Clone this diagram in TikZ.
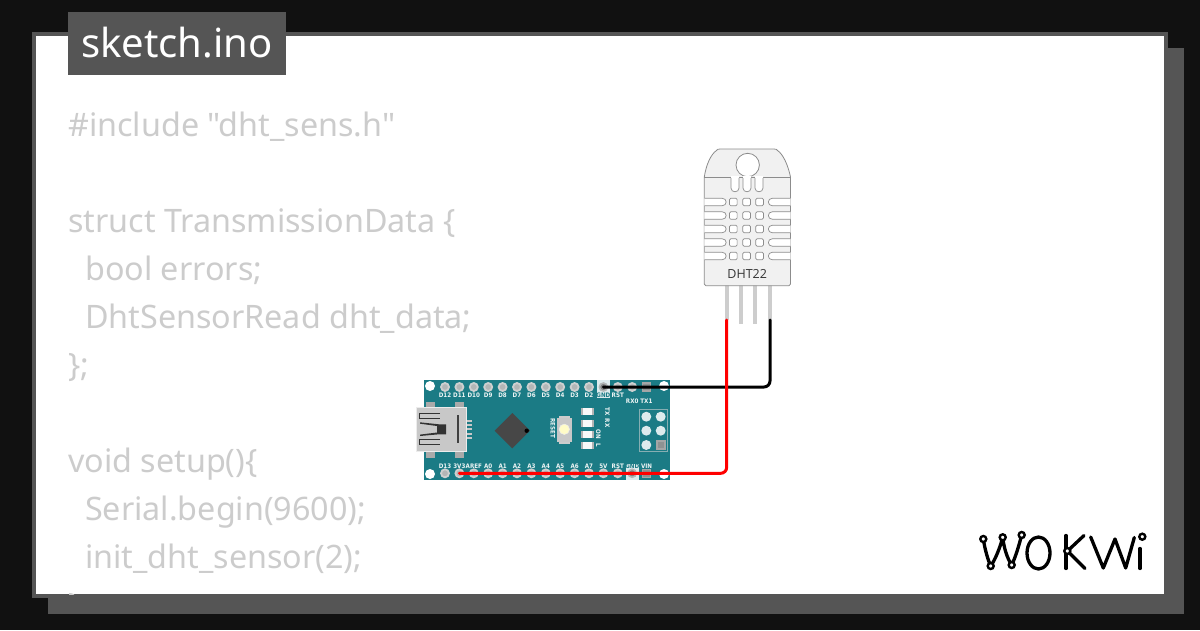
\documentclass[tikz,border=0pt]{standalone}
\usepackage{fontspec}
\setmainfont{Noto Sans}
\newfontfamily\codefont{Noto Sans}
\newfontfamily\boardfont{DejaVu Sans}[FakeStretch=0.9]
\newfontfamily\sensfont{Open Sans}
\definecolor{bgdark}{HTML}{111111}
\definecolor{framegray}{HTML}{555555}
\definecolor{codegray}{HTML}{CCCCCC}
\definecolor{boardteal}{HTML}{1B7B85}
\definecolor{pinring}{HTML}{CDD0D0}
\definecolor{pinhole}{HTML}{B2B6B6}
\definecolor{usbgray}{HTML}{C8C8C8}
\definecolor{bodylight}{HTML}{F1F1F1}
\definecolor{edgegray}{HTML}{8C8C8C}
\definecolor{legray}{HTML}{CDCDCD}
\tikzset{
  codeline/.style={anchor=base west,inner sep=0pt,text=codegray,font=\codefont\fontsize{32.3}{38}\selectfont},
  pin/.style={circle,draw=pinring,fill=pinhole,line width=1.8pt,minimum size=8pt,inner sep=0pt},
  gndpin/.style={circle,draw=pinhole,fill=pinhole!70!black,line width=1.6pt,minimum size=8pt,inner sep=0pt},
  sqpin/.style={rectangle,draw=pinring!80!black,fill=pinhole!80!black,line width=1.6pt,minimum size=8pt,inner sep=0pt},
  hole/.style={circle,fill=white,minimum size=10pt,inner sep=0pt},
  blabel/.style={inner sep=0pt,text=white!92!boardteal,font=\boardfont\bfseries\fontsize{6.2}{7}\selectfont},
  wire/.style={line width=3pt,rounded corners=6pt,line cap=round},
  logo/.style={line width=3.3pt,line cap=round,line join=round,draw=black},
  logodot/.style={circle,draw=black,fill=white,line width=2.4pt,minimum size=6pt,inner sep=0pt},
  slot/.style={draw=edgegray,fill=white,line width=.7pt},
  led/.style={rectangle,fill=white!95!gray,minimum width=9pt,minimum height=7pt,inner sep=0pt},
  leg/.style={line width=4pt,draw=legray},
}
\begin{document}
\begin{tikzpicture}[x=1pt,y=-1pt]
\useasboundingbox (0,0) rectangle (1200,630);
\fill[bgdark] (0,0) rectangle (1200,630);
% sheet
\fill[framegray] (48,48) rectangle (1184,614);
\fill[framegray] (32,32) rectangle (1168,598);
\fill[white] (36,36) rectangle (1164,594);
% code
\begin{scope}
\clip (36,36) rectangle (1164,594);
\node[codeline] (c1) at (68,136) {\#include "dht\_sens.h"};
\node[codeline] (c2) at (68,232) {struct TransmissionData \{};
\node[codeline] (c3) at (85,280) {bool errors;};
\node[codeline] (c4) at (85,328) {DhtSensorRead dht\_data;};
\node[codeline] (c5) at (68,376) {\};};
\node[codeline] (c6) at (68,472) {void setup()\{};
\node[codeline] (c7) at (85,520) {Serial.begin(9600);};
\node[codeline] (c8) at (85,568) {init\_dht\_sensor(2);};
\node[codeline] (c9) at (68,616) {\}};
\end{scope}
% title
\fill[framegray] (68,12) rectangle (286,75);
\node[anchor=base west,inner sep=0pt,text=white,font=\codefont\fontsize{40}{48}\selectfont] (title) at (81,57.5) {sketch.ino};
% board
\fill[boardteal] (424,380) rectangle (669.5,480);
\fill[white!85!boardteal] (596.7,380) rectangle (610.4,398);
\fill[white!85!boardteal] (625.6,463.5) rectangle (639,480);
\foreach \n/\x/\y in {h1/430/386,h2/664/386,h3/430/474,h4/664/474}
  \node[hole] (\n) at (\x,\y) {};
% top header
\foreach \i/\lab in {0/D12,1/D11,2/D10,3/D9,4/D8,5/D7,6/D6,7/D5,8/D4,9/D3,10/D2,12/RST}{
  \node[pin] (t\i) at ({445+14.4*\i},387) {};
  \node[blabel] (tl\i) at ({445+14.4*\i},395) {\lab};
}
\node[gndpin] (t11) at (603.4,387) {};
\node[blabel,text=boardteal] (tl11) at (603.4,395) {GND};
\node[pin] (t13) at (632.2,387) {};
\node[sqpin] (t14) at (646.6,387) {};
\node[blabel] (rx0) at (632.2,400.8) {RX0};
\node[blabel] (tx1) at (646.4,400.8) {TX1};
% bottom header
\foreach \i/\lab in {0/D13,1/3V3,2/AREF,3/A0,4/A1,5/A2,6/A3,7/A4,8/A5,9/A6,10/A7,11/5V,12/RST}{
  \node[pin] (b\i) at ({445+14.4*\i},473.3) {};
  \node[blabel] (bl\i) at ({445+14.4*\i},466) {\lab};
}
\node[gndpin] (b13) at (632.2,473.3) {};
\node[blabel,text=boardteal] (bl13) at (632.2,466) {GND};
\node[sqpin] (b14) at (646.6,473.3) {};
\node[blabel] (bl14) at (646.6,466) {VIN};
% USB
\fill[usbgray!85!black] (426,402) rectangle (435,458);
\fill[usbgray!85!black] (455,402) rectangle (464,458);
\foreach \y in {420.7,425,429.3,433.7,438}
  \fill[usbgray] (466,\y-1) rectangle (472,\y+1);
\filldraw[fill=usbgray,draw=white!85!gray,line width=.8pt] (416.5,407.3) rectangle (466.5,451);
\fill[black!75] (457,415) rectangle (458.7,442.5);
\draw[black!80,line width=1pt] (440,413.5) -- (419.5,413.5) -- (419.5,418.5) -- (440,418.5);
\draw[black!80,line width=1pt] (440,439) -- (419.5,439) -- (419.5,444.5) -- (440,444.5);
\fill[black!80] (420,422.3) -- (439,424.3) -- (446,424.3) -- (446,434.3) -- (439,434.3) -- (420,436) -- (420,434.6) -- (437,432.5) -- (437,426) -- (420,423.7) -- cycle;
% chip
\fill[black!72] (512.3,413) -- (530,430.7) -- (512.3,448.4) -- (494.6,430.7) -- cycle;
\fill[black] (526.7,430.7) circle (2.2);
% reset
\fill[black!20] (559,415.8) rectangle (569.5,443.6);
\fill[usbgray] (556.7,417.7) rectangle (571.7,441.7);
\filldraw[fill=yellow!22!white,draw=white!85!gray,line width=.5pt] (564.3,429.3) circle (5.2);
\node[blabel,rotate=-90] (reset) at (552.8,428) {RESET};
% LEDs
\foreach \n/\y in {1/411.7,2/423,3/434.2,4/445.4}{
  \fill[usbgray!90!black] (580.8,{\y-3.5}) rectangle (594.2,{\y+3.5});
  \node[led] (led\n) at (587.5,\y) {};
}
\node[blabel,rotate=-90] (tx) at (607.4,411.7) {TX};
\node[blabel,rotate=-90] (rx) at (607.4,423) {RX};
\node[blabel,rotate=-90] (on) at (598.4,434.2) {ON};
\node[blabel,rotate=-90] (ll) at (598.4,445.4) {L};
% ICSP
\draw[pinring!60!boardteal,line width=.8pt] (639.5,409) rectangle (667.3,451.7);
\foreach \n/\x/\y in {a/646.3/416.7,b/660.7/416.7,c/646.3/430.7,d/660.7/430.7,e/646.3/445}
  \node[pin,draw=white!85!boardteal,fill=white!85!boardteal] (icsp\n) at (\x,\y) {};
\node[sqpin] (icspf) at (660.7,445) {};
% sensor legs
\coordinate (vcc) at (726.7,320);
\coordinate (gndleg) at (770,320);
\draw[leg] (726.7,285) -- (vcc);
\draw[leg] (741,285) -- (741,323.5);
\draw[leg] (755.3,285) -- (755.3,323.5);
\draw[leg] (770,285) -- (gndleg);
% sensor body
\filldraw[fill=bodylight,draw=edgegray,line width=.8pt,line join=round]
  (704.3,177) .. controls (706,165) and (711,154) .. (716.5,150.5) .. controls (717,149.5) and (718,149) .. (720,149)
  -- (774,149) .. controls (776,149) and (777,149.5) .. (777.5,150.5) .. controls (783,154) and (788,165) .. (790.5,177)
  -- (790.5,284) -- (789,285.7) -- (705.8,285.7) -- (704.3,284) -- cycle;
\draw[edgegray,line width=.7pt] (704.3,177) -- (790.5,177);
\filldraw[fill=white,draw=edgegray,line width=.8pt] (747.7,165) circle (11.7);
\foreach \x in {731,743,755}{
  \filldraw[slot] (\x,177) -- (\x,188) .. controls (\x,193) and ({\x+8},193) .. ({\x+8},188) -- ({\x+8},177);
  \fill[white] ({\x+.4},175.5) rectangle ({\x+7.6},178);
}
\foreach \y in {202,215.5,229,242.5,256}{
  \filldraw[slot] (704.3,{\y-3.8}) -- (722,{\y-3.8}) .. controls (727.5,{\y-3.8}) and (727.5,{\y+3.8}) .. (722,{\y+3.8}) -- (704.3,{\y+3.8});
  \filldraw[slot] (790.5,{\y-3.8}) -- (772.5,{\y-3.8}) .. controls (767,{\y-3.8}) and (767,{\y+3.8}) .. (772.5,{\y+3.8}) -- (790.5,{\y+3.8});
  \foreach \x in {733.3,746.6,759.6}
    \filldraw[slot,rounded corners=1.3pt] ({\x-3.8},{\y-3.8}) rectangle ({\x+3.8},{\y+3.8});
}
\node[inner sep=0pt,text=black!80,font=\sensfont\fontsize{12.5}{14}\selectfont] (dht) at (747.2,273.8) {DHT22};
% wires
\draw[wire,draw=black] (t11.center) -| (gndleg);
\draw[wire,draw=red] (b1.center) -| (vcc);
% logo
\draw[logo] (983.3,539) .. controls (985,550) and (988,560) .. (990.7,566)
  .. controls (995,560) and (1000,548) .. (1002.7,537.3)
  .. controls (1004,548) and (1007,558) .. (1011.7,565)
  .. controls (1016,556) and (1019,545) .. (1021.7,535);
\draw[logo] (1038.5,553) ellipse (11.5 and 16);
\draw[logo] (1066,535.5) -- (1066,568.5);
\draw[logo] (1084,535.5) -- (1067.5,551) -- (1085,568.5);
\draw[logo] (1090.7,537) -- (1103.3,568) -- (1115,539) -- (1125.7,568) -- (1134.3,537.5);
\draw[logo] (1140,548.5) -- (1140,568.5);
\foreach \n/\x/\y in {a/983.3/539,b/990.7/566,c/1002.7/537.3,d/1011.7/565,e/1021.7/535,f/1067.3/551,g/1142.3/536.7}
  \node[logodot] (logo\n) at (\x,\y) {};
\end{tikzpicture}
\end{document}
